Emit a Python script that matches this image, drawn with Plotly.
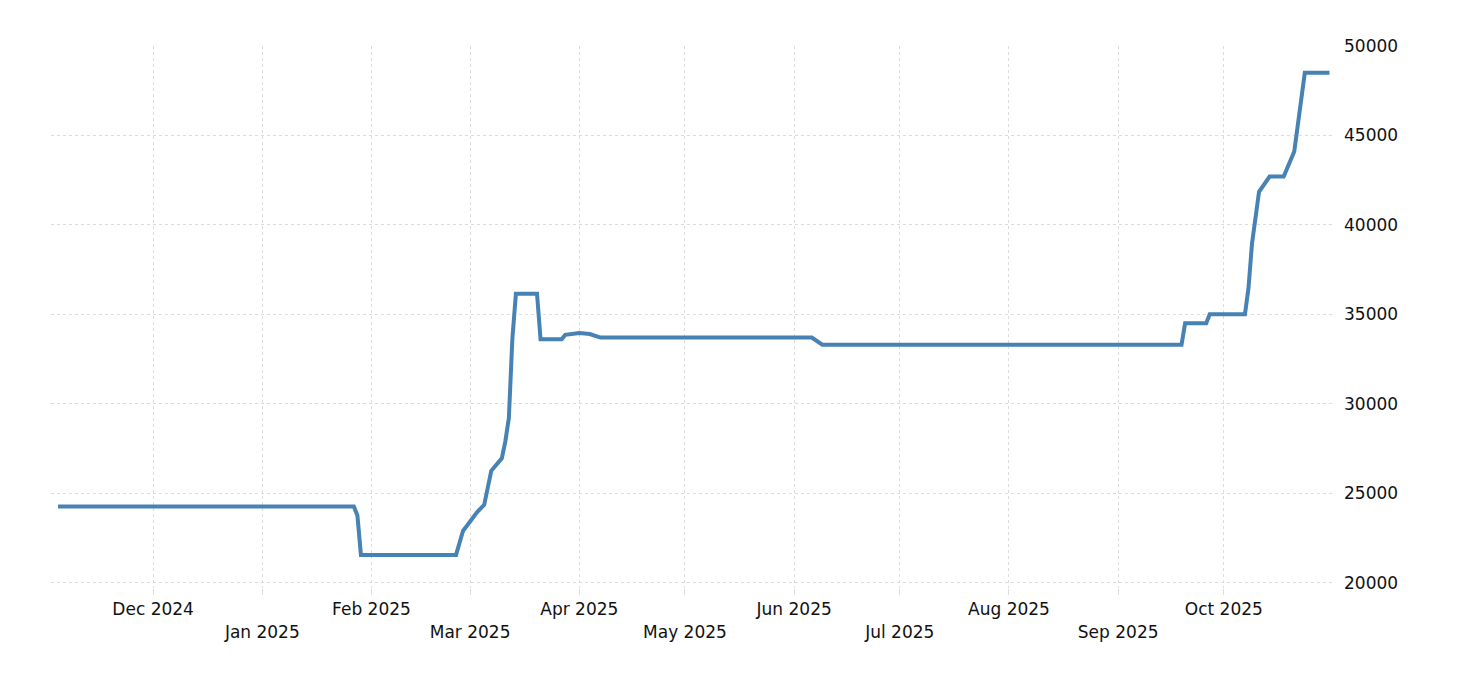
import plotly.graph_objects as go

dates = [
    "2024-11-04", "2025-01-27", "2025-01-28", "2025-01-29", "2025-02-25", "2025-02-27",
    "2025-02-28", "2025-03-03", "2025-03-05", "2025-03-07", "2025-03-10", "2025-03-11",
    "2025-03-12", "2025-03-13", "2025-03-14", "2025-03-20", "2025-03-21", "2025-03-27",
    "2025-03-28", "2025-04-01", "2025-04-04", "2025-04-07", "2025-06-06", "2025-06-09",
    "2025-09-19", "2025-09-20", "2025-09-26", "2025-09-27", "2025-10-07", "2025-10-08",
    "2025-10-09", "2025-10-11", "2025-10-14", "2025-10-18", "2025-10-21", "2025-10-24",
    "2025-10-31",
]
values = [
    24250, 24250, 23750, 21550, 21550, 22900,
    23150, 23950, 24350, 26250, 26950, 27900,
    29200, 33650, 36150, 36150, 33600, 33600,
    33850, 33950, 33900, 33700, 33700, 33300,
    33300, 34500, 34500, 35000, 35000, 36450,
    38950, 41850, 42700, 42700, 44100, 48500,
    48500,
]
tick_dates = ["2024-12-01", "2025-01-01", "2025-02-01", "2025-03-01", "2025-04-01",
              "2025-05-01", "2025-06-01", "2025-07-01", "2025-08-01", "2025-09-01",
              "2025-10-01"]
tick_labels = ["Dec 2024", "Jan 2025", "Feb 2025", "Mar 2025", "Apr 2025", "May 2025",
               "Jun 2025", "Jul 2025", "Aug 2025", "Sep 2025", "Oct 2025"]
y_ticks = [20000, 25000, 30000, 35000, 40000, 45000, 50000]
# alternate labels between two rows
tick_text = [t if i % 2 == 0 else "<br>" + t for i, t in enumerate(tick_labels)]

fig = go.Figure(go.Scatter(x=dates, y=values, mode="lines",
                           line=dict(color="#4682b4", width=4)))
fig.update_layout(
    width=1460, height=680, plot_bgcolor="white", paper_bgcolor="white",
    margin=dict(l=43, r=135, t=38, b=100), showlegend=False,
    font=dict(family="DejaVu Sans", size=17, color="#111"),
)
fig.update_xaxes(range=["2024-11-02", "2025-11-01"], tickvals=tick_dates, ticktext=tick_text,
                 showgrid=True, gridcolor="#dcdcdc", griddash="dot", gridwidth=1,
                 ticks="outside", ticklen=6, tickcolor="#dcdcdc", tickangle=0,
                 showline=False, zeroline=False, automargin=False)
fig.update_yaxes(side="right", range=[19700, 50000], tickvals=y_ticks,
                 ticktext=[str(v) for v in y_ticks],
                 showgrid=True, gridcolor="#dcdcdc", griddash="dot", zeroline=False,
                 ticks="", ticklabelstandoff=10, automargin=False)
fig.write_html("out.html")
